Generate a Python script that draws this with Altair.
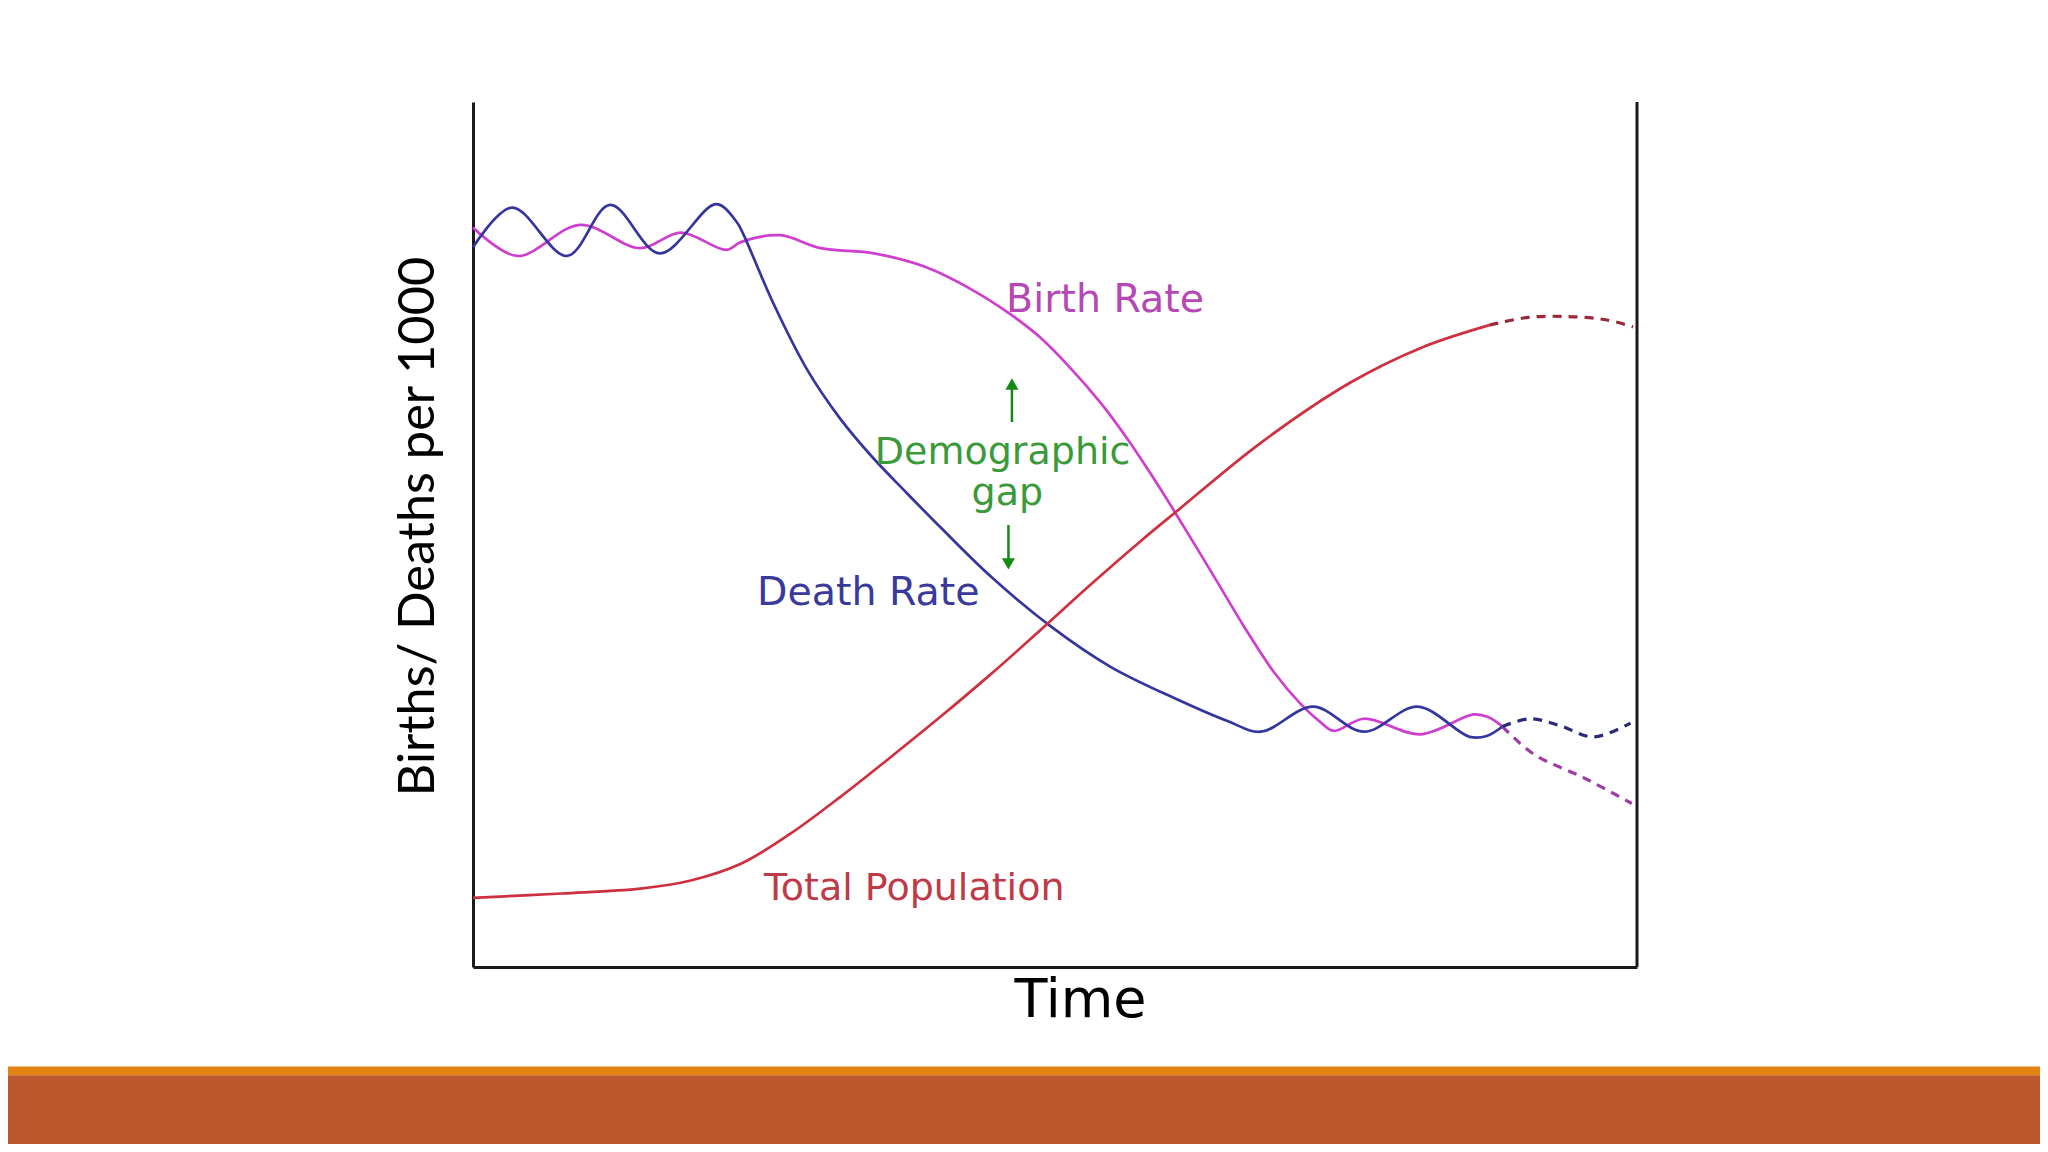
import altair as alt
import pandas as pd

# Time runs 0..100 across the frame, rate runs 0..100 from bottom to top of the frame
birth_t = [0, 3.82, 9.20, 14.37, 17.85, 21.77, 23.01, 26.37, 29.85, 34.46, 38.72, 42.99, 46.13,
           48.71, 51.29, 53.87, 56.12, 58.14, 60.16, 63.86, 66.22, 68.80, 71.04, 72.73, 73.96,
           76.54, 81.37, 85.97, 87.21, 88.44]
birth_v = [85.5, 82.2, 85.8, 83.1, 84.9, 82.9, 83.8, 84.6, 83.1, 82.5, 81.0, 78.2, 75.5,
           72.8, 69.3, 65.3, 61.25, 57.2, 52.9, 44.7, 39.4, 34.1, 30.5, 28.4, 27.3,
           28.7, 26.9, 29.2, 28.9, 27.8]
birth_proj_t = [88.44, 91.13, 95.40, 99.55]
birth_proj_v = [27.8, 24.6, 21.9, 18.9]

death_t = [0, 3.37, 8.08, 11.78, 16.05, 20.88, 22.67, 23.23, 25.81, 28.73, 31.54, 34.34, 37.26,
           40.18, 44.44, 49.61, 54.77, 60.38, 64.87, 67.68, 72.17, 76.54, 81.14, 85.63, 87.09,
           88.44]
death_v = [83.2, 87.8, 82.2, 88.1, 82.5, 88.2, 86.1, 84.7, 76.7, 69.0, 63.4, 58.9, 54.8,
           50.8, 45.2, 39.4, 34.7, 31.0, 28.4, 27.2, 30.1, 27.2, 30.1, 26.6, 26.7,
           27.8]
death_proj_t = [88.44, 90.80, 93.38, 96.30, 99.44]
death_proj_v = [27.8, 28.7, 27.9, 26.6, 28.2]

pop_t = [0, 7.63, 14.37, 18.63, 23.01, 27.27, 31.54, 35.80, 40.18, 44.44, 48.71, 52.97,
         57.50, 60.38, 67.68, 75.42, 81.48, 87.32]
pop_v = [8.0, 8.5, 9.06, 9.97, 11.93, 15.41, 19.64, 24.17, 28.95, 33.80, 38.90, 44.10,
         49.40, 52.60, 60.60, 67.60, 71.60, 74.2]
pop_proj_t = [87.32, 90.68, 94.05, 97.42, 99.66]
pop_proj_v = [74.2, 75.1, 75.2, 74.8, 74.0]

label_text = ["Birth Rate", "Death Rate"]
label_t = [45.8, 24.4]
label_v = [77.1, 43.2]
label_color = ["#b548b5", "#3a3a9c"]

pop_label = ["Total Population"]
pop_label_t = [25.0]
pop_label_v = [9.0]

gap_text = ["Demographic", "gap"]
gap_t = [45.5, 45.9]
gap_v = [59.4, 54.7]

arrow_t = [46.3, 46.0]
arrow_from = [63.0, 51.1]
arrow_to = [67.4, 46.6]
arrow_shape = ["triangle-up", "triangle-down"]

# slide footer bands (theme decoration), in the same rate units
band_from = [-11.5, -12.5]
band_to = [-12.5, -22.0]
band_color = ["#E48312", "#BD582C"]

W, H = 1164, 865
xs = alt.Scale(domain=[0, 100], nice=False, zero=False)
ys = alt.Scale(domain=[0, 100], nice=False, zero=False)

x_axis = alt.Axis(title="Time", labels=False, ticks=False, grid=False,
                  domainColor="#1a1a1a", domainWidth=3,
                  titleFont="DejaVu Sans", titleFontSize=54,
                  titleFontWeight="normal", titleColor="#000000",
                  titleX=607, titleY=33, titleBaseline="middle", titleAlign="center")
y_axis = alt.Axis(title="Births/ Deaths per 1000", labels=False, ticks=False,
                  grid=False, domainColor="#1a1a1a", domainWidth=3,
                  titleFont="Lato", titleFontSize=50.5,
                  titleFontWeight="normal", titleColor="#000000",
                  titleAngle=270, titleX=-55, titleY=424,
                  titleBaseline="middle", titleAlign="center")


def line(t, v, color, dashed=False, width=2.7):
    df = pd.DataFrame({"t": t, "v": v})
    kw = dict(color=color, strokeWidth=width, interpolate="catmull-rom")
    if dashed:
        kw["strokeDash"] = [9, 7]
        kw["strokeWidth"] = 3.2
    return alt.Chart(df).mark_line(**kw).encode(
        x=alt.X("t:Q", scale=xs, axis=x_axis),
        y=alt.Y("v:Q", scale=ys, axis=y_axis),
    )


layers = []

bands = pd.DataFrame({"y": band_from, "y2": band_to, "c": band_color,
                      "x": [-41.0, -41.0], "x2": [136.0, 136.0]})
layers.append(alt.Chart(bands).mark_rect().encode(
    x="x:Q", x2="x2:Q", y="y:Q", y2="y2:Q", color=alt.Color("c:N", scale=None)))

frame = pd.DataFrame({"t": [100], "v": [0], "v2": [100]})
layers.append(alt.Chart(frame).mark_rule(color="#1a1a1a", strokeWidth=3).encode(
    x="t:Q", y="v:Q", y2="v2:Q"))

layers.append(line(birth_t, birth_v, "#cf3fcf"))
layers.append(line(death_t, death_v, "#3535a0"))
layers.append(line(pop_t, pop_v, "#cf3040"))
layers.append(line(birth_proj_t, birth_proj_v, "#a03aa8", dashed=True))
layers.append(line(death_proj_t, death_proj_v, "#2a2a78", dashed=True))
layers.append(line(pop_proj_t, pop_proj_v, "#9a2a3a", dashed=True))

labels = pd.DataFrame({"t": label_t, "v": label_v, "text": label_text, "c": label_color})
layers.append(alt.Chart(labels).mark_text(
    font="DejaVu Sans", fontSize=39.5, align="left", baseline="middle").encode(
    x="t:Q", y="v:Q", text="text:N", color=alt.Color("c:N", scale=None)))

plab = pd.DataFrame({"t": pop_label_t, "v": pop_label_v, "text": pop_label})
layers.append(alt.Chart(plab).mark_text(
    font="DejaVu Sans", fontSize=38, align="left", baseline="middle", color="#bf3a48").encode(
    x="t:Q", y="v:Q", text="text:N"))

gap = pd.DataFrame({"t": gap_t, "v": gap_v, "text": gap_text})
layers.append(alt.Chart(gap).mark_text(
    font="DejaVu Sans", fontSize=38, align="center", baseline="middle", color="#3a9a3a").encode(
    x="t:Q", y="v:Q", text="text:N"))

arrows = pd.DataFrame({"t": arrow_t, "v": arrow_from, "v2": arrow_to, "shape": arrow_shape})
layers.append(alt.Chart(arrows).mark_rule(color="#138a13", strokeWidth=2.5).encode(
    x="t:Q", y="v:Q", y2="v2:Q"))
layers.append(alt.Chart(arrows).mark_point(filled=True, size=170, opacity=1, color="#138a13").encode(
    x="t:Q", y="v2:Q", shape=alt.Shape("shape:N", scale=None)))

chart = alt.layer(*layers).properties(
    width=W, height=H,
    padding={"left": 465, "top": 94, "right": 403, "bottom": 177},
    autosize="none",
    background="#ffffff",
).configure_view(stroke=None)

chart.save("out.html", embed_options={"renderer": "svg", "actions": False})
